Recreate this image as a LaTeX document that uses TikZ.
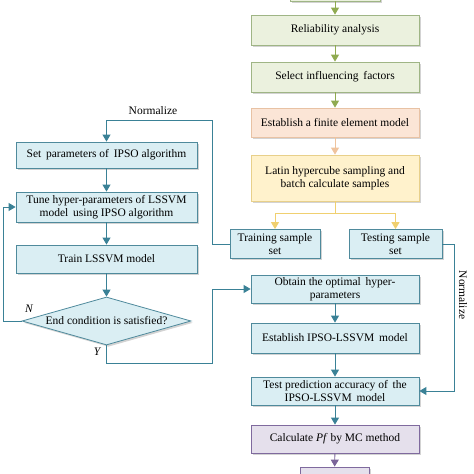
\documentclass[tikz,border=0pt]{standalone}
\usepackage{fontspec}
\setmainfont{Liberation Serif}
\usetikzlibrary{shapes.geometric,shadows,arrows.meta}
\definecolor{gfill}{HTML}{EBF1DE}
\definecolor{gline}{HTML}{9FB585}
\definecolor{garrow}{HTML}{8FAA50}
\definecolor{ofill}{HTML}{FBE5D6}
\definecolor{oline}{HTML}{E8C2A4}
\definecolor{oarrow}{HTML}{EFC39D}
\definecolor{yfill}{HTML}{FFF2CC}
\definecolor{yline}{HTML}{E8D08A}
\definecolor{yarrow}{HTML}{F0D070}
\definecolor{bfill}{HTML}{DAEEF3}
\definecolor{bline}{HTML}{4F8A9C}
\definecolor{barrow}{HTML}{3A8196}
\definecolor{pfill}{HTML}{E5E0EC}
\definecolor{pline}{HTML}{7F6A9E}
\definecolor{parrow}{HTML}{7A6499}
\tikzset{
  box/.style={rectangle, draw, line width=0.8pt, align=center, inner sep=2pt,
    font=\fontsize{11.5}{13.5}\selectfont,
    drop shadow={shadow xshift=1.8pt, shadow yshift=-1.8pt, opacity=0.35, fill=gray}},
  gbox/.style={box, fill=gfill, draw=gline, minimum width=168, minimum height=30},
  obox/.style={box, fill=ofill, draw=oline, minimum width=168, minimum height=29},
  ybox/.style={box, fill=yfill, draw=yline, minimum width=168, minimum height=46},
  bbox/.style={box, fill=bfill, draw=bline},
  rbox/.style={bbox, minimum width=168, minimum height=28},
  lbox/.style={bbox, minimum width=181},
  pbox/.style={box, fill=pfill, draw=pline, minimum width=168, minimum height=28},
  arr/.style={line width=0.9pt, -{Triangle[length=7pt,width=8pt]}},
  garr/.style={arr, draw=garrow},
  oarr/.style={arr, draw=oarrow},
  yarr/.style={arr, draw=yarrow},
  barr/.style={arr, draw=barrow},
  parr/.style={arr, draw=parrow},
  lbl/.style={font=\fontsize{11.5}{13.5}\selectfont, inner sep=0pt},
  yn/.style={font=\fontsize{11.5}{13.5}\selectfont\itshape, inner sep=0pt}
}
\begin{document}
\begin{tikzpicture}[x=1pt,y=-1pt]
\useasboundingbox (0,0) rectangle (474,474);
% right column
\node[gbox, minimum width=90] (top) at (335,-14) {};
\node[gbox] (rel) at (335,30) {Reliability analysis};
\node[gbox] (sel) at (335,77) {Select influencing\, factors};
\node[obox] (fem) at (335,122.5) {Establish a finite element model};
\node[ybox] (lhs) at (335,178) {Latin hypercube sampling and\\batch calculate samples};
\node[bbox, minimum width=90, minimum height=29] (train) at (275,244) {Training sample\\set};
\node[bbox, minimum width=93, minimum height=29] (test) at (395.5,244) {Testing sample\\set};
\node[rbox] (obt) at (335,289) {Obtain the optimal\, hyper-\\parameters};
\node[rbox, minimum height=30] (est) at (335,338) {Establish IPSO-LSSVM\, model};
\node[rbox] (tp) at (335,391) {Test prediction accuracy of\, the\\IPSO-LSSVM\, model};
\node[pbox] (pf) at (335,439) {Calculate \textit{Pf} by MC method};
\node[pbox, minimum width=69, minimum height=30] (fin) at (334.5,482) {};
% left column
\node[lbox, minimum height=26] (set) at (106.5,155) {Set\, parameters of\, IPSO algorithm};
\node[lbox, minimum height=30] (tune) at (106.5,207) {Tune hyper-parameters of LSSVM\\model\, using IPSO algorithm};
\node[lbox, minimum height=28] (trn) at (106.5,259) {Train LSSVM model};
\node[bbox, shape=diamond, aspect=3.5, inner sep=0pt, minimum width=169, minimum height=48] (dia) at (106.5,321) {End condition is satisfied?};
% connectors right
\draw[garr] (top) -- (rel);
\draw[garr] (rel) -- (sel);
\draw[garr] (sel) -- (fem);
\draw[oarr] (fem) -- (lhs);
\coordinate (sp) at (335,213);
\draw[yarrow, line width=0.9pt] (lhs.south) -- (sp);
\draw[yarr] (sp) -| (train.north);
\draw[yarr] (sp) -| (test.north);
\draw[barr] (obt) -- (est);
\draw[barr] (est) -- (tp);
\draw[barr] (tp) -- (pf);
\draw[parr] (pf) -- (fin);
% connectors left
\draw[barr] (set) -- (tune);
\draw[barr] (tune) -- (trn);
\draw[barr] (trn) -- (dia);
\draw[barr] (train.west) -| (212,120) -| (set.north);
\node[lbl] (nl) at (153,111) {Normalize};
\draw[barr] (dia.west) -- (3,321) |- (tune.west);
\node[yn] (nn) at (29,309) {N};
\draw[barr] (dia.south) |- (212,363) |- (obt.west);
\node[yn] (yy) at (97,352) {Y};
\draw[barr] (test.east) -- (454,244) |- (tp.east);
\node[lbl, rotate=-90] (nr) at (463,295) {Normalize};
\end{tikzpicture}
\end{document}
